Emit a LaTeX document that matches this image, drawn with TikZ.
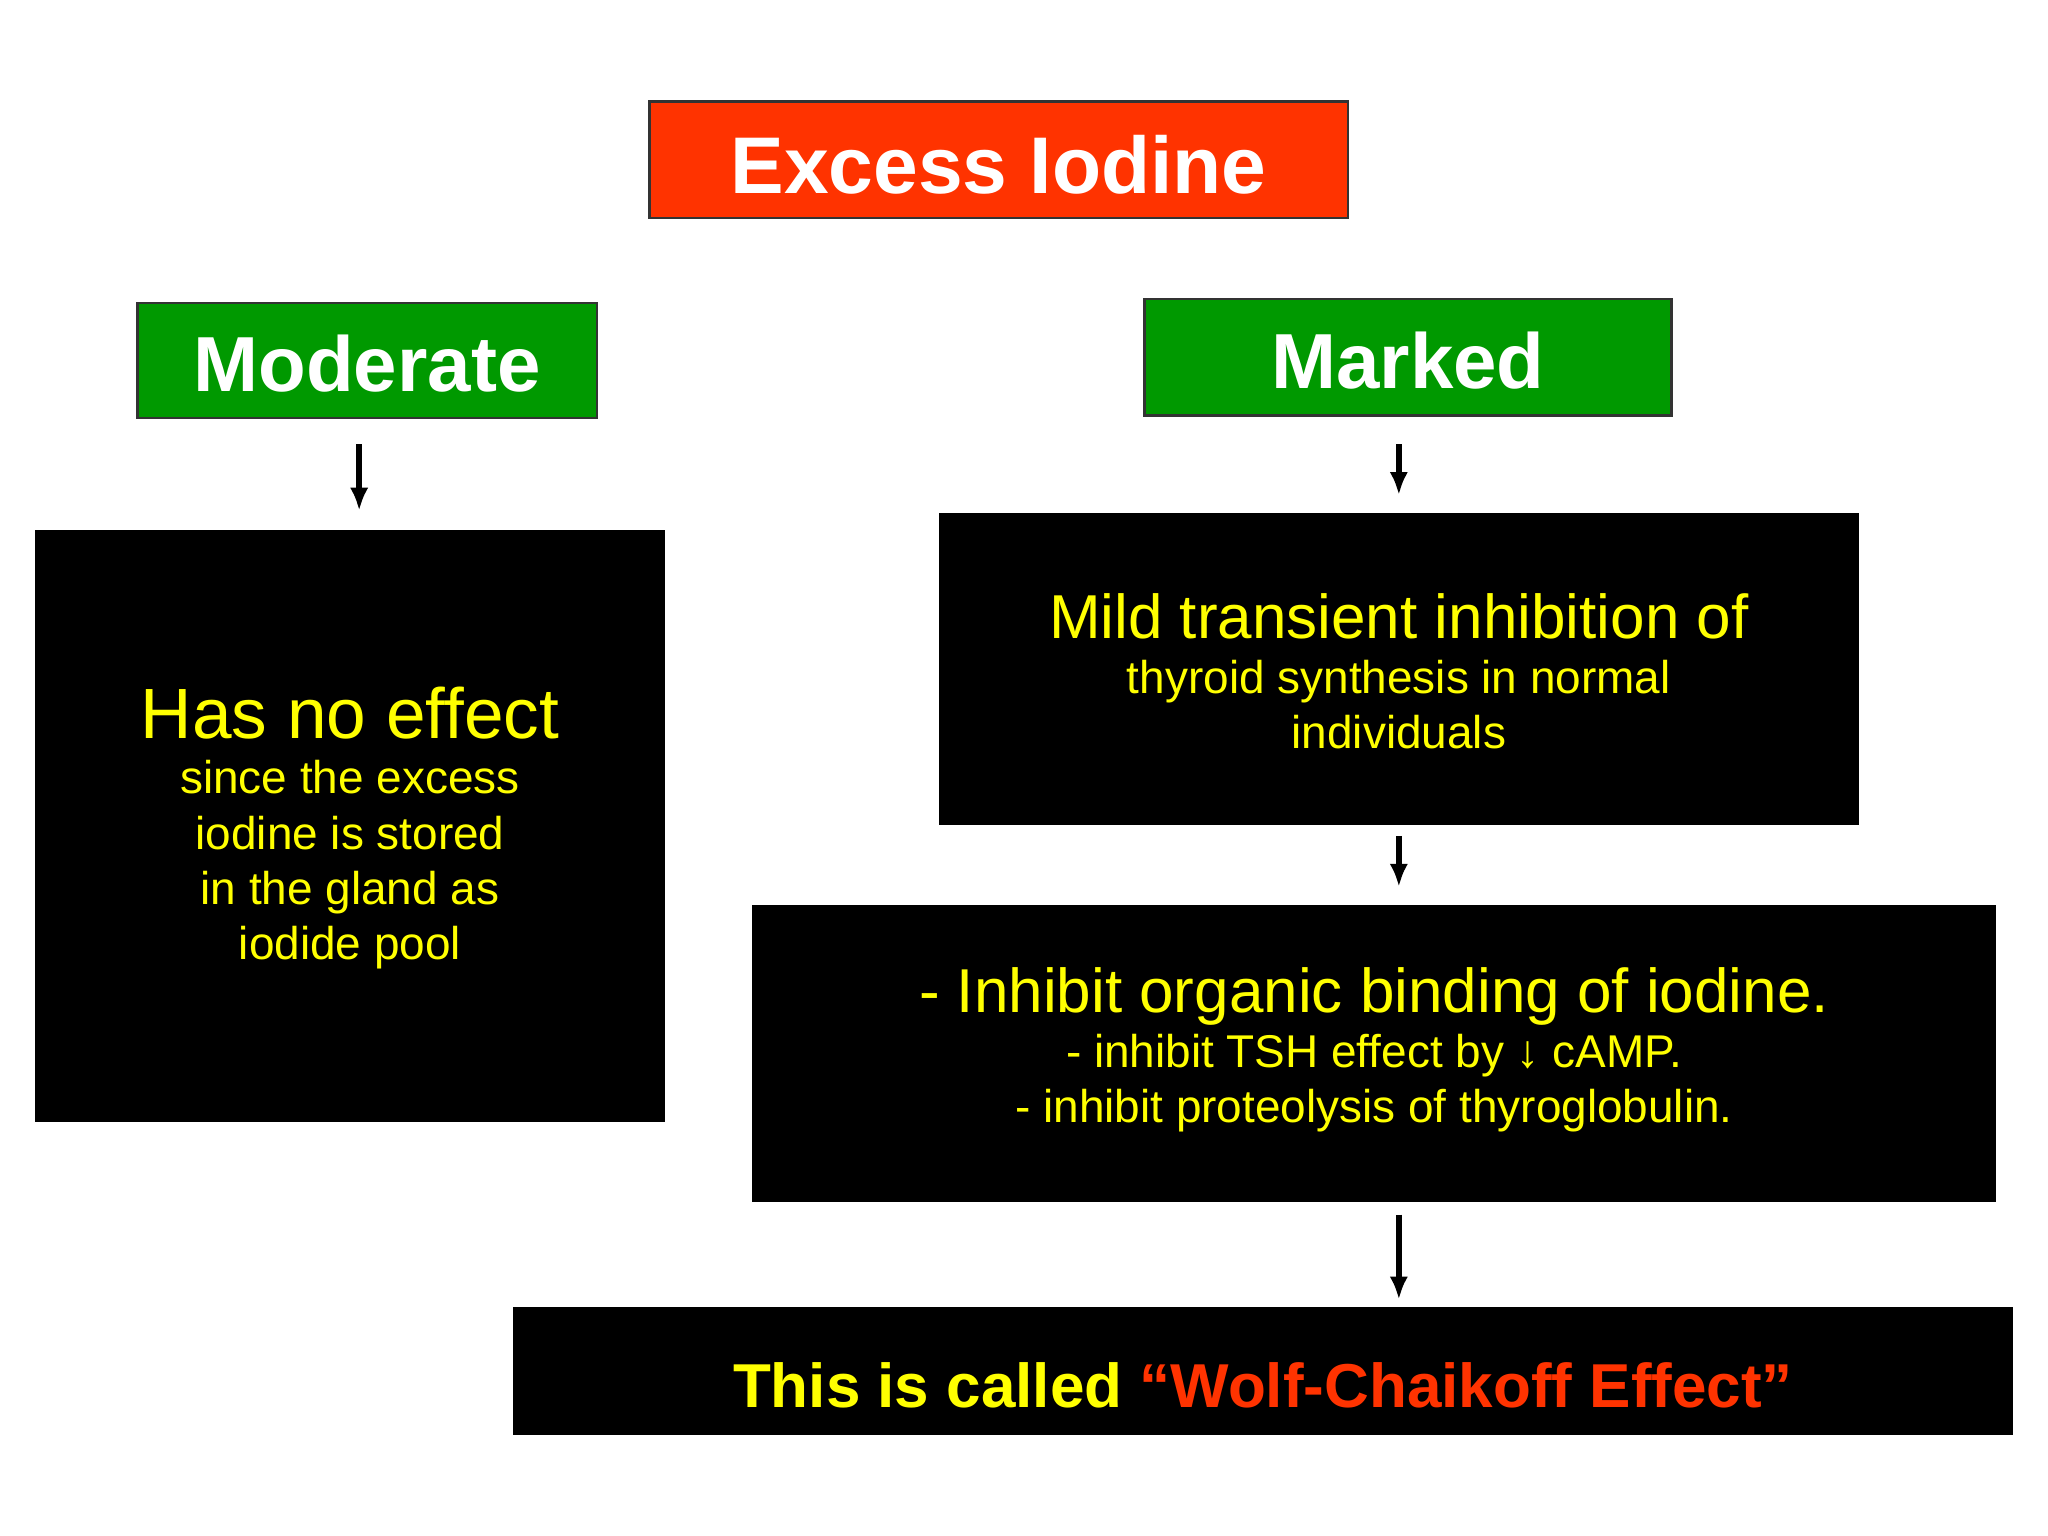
\documentclass[tikz,border=0pt]{standalone}
\usepackage{fontspec}
\setmainfont{Liberation Sans}
\definecolor{redbox}{HTML}{FF3300}
\definecolor{greenbox}{HTML}{009900}
\definecolor{txtyellow}{HTML}{FFFF00}
\begin{document}
\begin{tikzpicture}[x=0.01cm,y=-0.01cm,
  box/.style={draw=black!80,line width=0.6pt},
  ytext/.style={text=txtyellow,align=center,inner sep=0pt},
  arr/.style={-{Latex[length=5pt,width=4pt]},line width=1.3pt}]
\useasboundingbox[fill=white] (0,0) rectangle (1568,1176);
\usetikzlibrary{arrows.meta}
\fill[redbox,box] (497,78) rectangle (1032,167);
\node (ex) at (764.5,126) {\fontsize{17.5pt}{20pt}\selectfont\bfseries\color{white}Excess Iodine};
\fill[greenbox,box] (105,232) rectangle (457,320);
\node (mod) at (281,278) {\fontsize{17pt}{20pt}\selectfont\bfseries\color{white}Moderate};
\fill[greenbox,box] (876,229) rectangle (1280,318);
\node (mar) at (1078,276) {\fontsize{17pt}{20pt}\selectfont\bfseries\color{white}Marked};
\fill[black] (27,406) rectangle (509,859);
\node[ytext] (left) at (268,634) {\fontsize{15.5pt}{25pt}\selectfont Has no effect\\since the excess\\iodine is stored\\in the gland as\\iodide pool};
\fill[black] (719,393) rectangle (1423,632);
\node[ytext] (mild) at (1071,514) {\fontsize{13.5pt}{21.3pt}\selectfont Mild transient inhibition of\\thyroid synthesis in normal\\individuals};
\fill[black] (576,693) rectangle (1528,920);
\node[ytext] (inh) at (1052,804) {\fontsize{13.5pt}{23pt}\selectfont - Inhibit organic binding of iodine.\\- inhibit TSH effect by ↓ cAMP.\\- inhibit proteolysis of thyroglobulin.};
\fill[black] (393,1001) rectangle (1541,1099);
\node (bot) at (967,1061) {\fontsize{13.5pt}{16pt}\selectfont\bfseries\color{txtyellow}This is called \color{redbox}“Wolf-Chaikoff Effect”};
\coordinate (a1) at (275,340); \coordinate (b1) at (275,391);
\coordinate (a2) at (1071,340); \coordinate (b2) at (1071,379);
\coordinate (a3) at (1071,640); \coordinate (b3) at (1071,679);
\coordinate (a4) at (1071,930); \coordinate (b4) at (1071,995);
\draw[arr] (a1) -- (b1);
\draw[arr] (a2) -- (b2);
\draw[arr] (a3) -- (b3);
\draw[arr] (a4) -- (b4);
\end{tikzpicture}
\end{document}
